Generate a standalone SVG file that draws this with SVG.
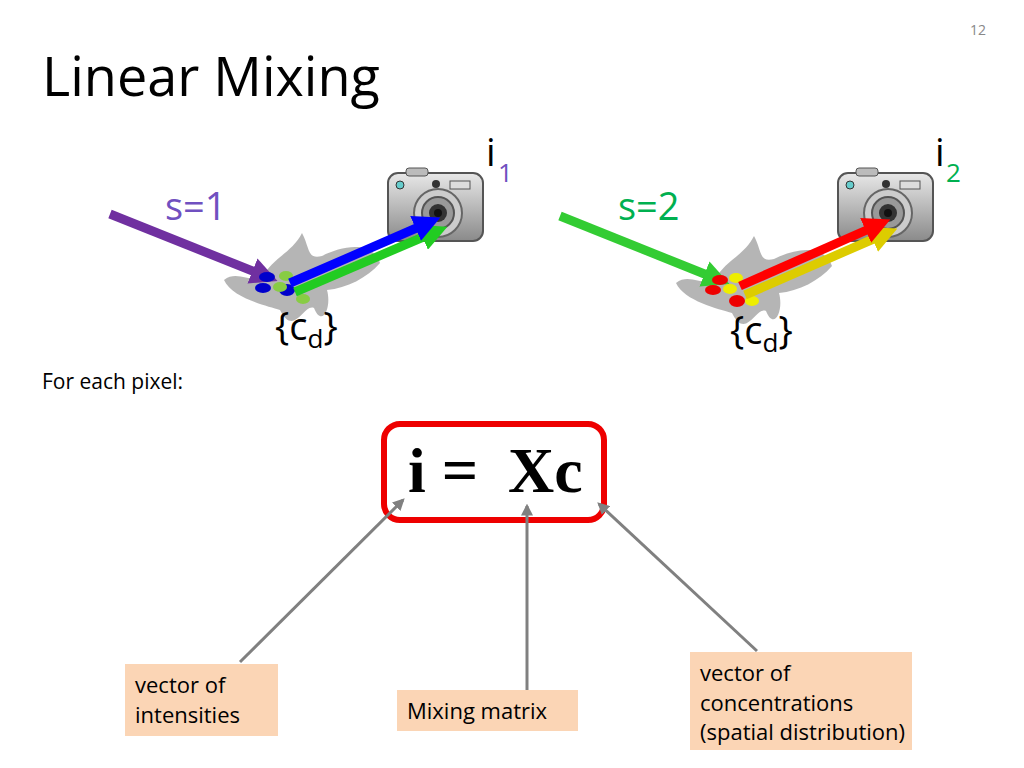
<svg xmlns="http://www.w3.org/2000/svg" width="1024" height="768" viewBox="0 0 1024 768">
<defs>
<style>
.t{font-family:"Open Sans","Liberation Sans",sans-serif}
.lbl{font-family:"Open Sans","Liberation Sans",sans-serif;font-size:22px;fill:#000}
.box{fill:#fbd5b5}
.ga{stroke:#808080;stroke-width:3;fill:none;marker-end:url(#ga)}
</style>
<marker id="ga" viewBox="0 0 10 10" refX="8" refY="5" markerWidth="4" markerHeight="4" orient="auto"><path d="M0,0L10,5L0,10z" fill="#808080"/></marker>
<marker id="ah" viewBox="0 0 10 10" refX="5" refY="5" markerWidth="3" markerHeight="3" orient="auto"><path d="M0,0L10,5L0,10z" fill="context-stroke"/></marker>
<linearGradient id="cam" x1="0" y1="0" x2="0" y2="1"><stop offset="0" stop-color="#e8e8e8"/><stop offset="1" stop-color="#8a8a8a"/></linearGradient>
<g id="camera">
<rect x="0" y="5" width="95" height="68" rx="10" fill="url(#cam)" stroke="#555" stroke-width="2"/>
<rect x="18" y="0" width="22" height="8" rx="3" fill="#bbb" stroke="#555"/>
<circle cx="12" cy="17" r="4" fill="#6cc" stroke="#333"/>
<circle cx="48" cy="16" r="4" fill="#333"/>
<rect x="62" y="13" width="20" height="8" fill="#ddd" stroke="#555"/>
<circle cx="50" cy="45" r="24" fill="#ccc" stroke="#666" stroke-width="2"/>
<circle cx="50" cy="45" r="16" fill="#999" stroke="#555" stroke-width="2"/>
<circle cx="50" cy="45" r="9" fill="#333"/>
<circle cx="50" cy="45" r="4" fill="#111"/>
</g>
<path id="blob" d="M0,0 C10,-20 30,-25 40,-45 C48,-30 45,-18 60,-22 C80,-32 110,-38 118,-15 C105,0 85,10 65,12 C70,30 60,50 52,30 C42,25 32,60 18,32 C5,28 -30,20 -38,2 C-25,-8 -12,5 0,0z" fill="#a8a8a8" opacity="0.85"/>
</defs>
<rect width="1024" height="768" fill="#fff"/>
<text class="t" x="42" y="96" font-size="54" fill="#000">Linear Mixing</text>
<text class="t" x="970" y="35" font-size="14" fill="#888">12</text>

<g id="scene1">
<use href="#blob" x="262" y="278"/>
<use href="#camera" x="388" y="168"/>
<line x1="110" y1="214" x2="265" y2="276" stroke="#7030a0" stroke-width="9" marker-end="url(#ah)"/>
<ellipse cx="267" cy="277" rx="8" ry="5" fill="#00c"/>
<ellipse cx="263" cy="288" rx="8" ry="5" fill="#00c"/>
<ellipse cx="287" cy="290" rx="8" ry="6" fill="#00c"/>
<ellipse cx="286" cy="276" rx="7" ry="5" fill="#8c4"/>
<ellipse cx="280" cy="287" rx="7" ry="5" fill="#8c4"/>
<ellipse cx="303" cy="299" rx="7" ry="5" fill="#8c4"/>
<line x1="295" y1="292" x2="435" y2="232" stroke="#2c2" stroke-width="9" marker-end="url(#ah)"/>
<line x1="290" y1="283" x2="428" y2="223" stroke="#00f" stroke-width="9" marker-end="url(#ah)"/>
<text class="t" x="165" y="220" font-size="38" fill="#7050c0">s=1</text>
<text class="t" x="486" y="166" font-size="38">i</text>
<text class="t" x="498" y="182" font-size="26" fill="#7050c0">1</text>
<text class="t" x="275" y="340" font-size="38">{c<tspan font-size="26" dy="8">d</tspan><tspan dy="-8">}</tspan></text>
</g>

<g id="scene2">
<use href="#blob" x="714" y="281"/>
<use href="#camera" x="838" y="168"/>
<line x1="560" y1="216" x2="717" y2="279" stroke="#3c3" stroke-width="9" marker-end="url(#ah)"/>
<ellipse cx="720" cy="280" rx="8" ry="5" fill="#e00"/>
<ellipse cx="713" cy="290" rx="8" ry="5" fill="#e00"/>
<ellipse cx="737" cy="301" rx="8" ry="6" fill="#e00"/>
<ellipse cx="736" cy="278" rx="7" ry="5" fill="#ee0"/>
<ellipse cx="730" cy="289" rx="7" ry="5" fill="#ee0"/>
<ellipse cx="752" cy="301" rx="7" ry="5" fill="#ee0"/>
<line x1="745" y1="295" x2="885" y2="234" stroke="#dc0" stroke-width="9" marker-end="url(#ah)"/>
<line x1="740" y1="286" x2="878" y2="225" stroke="#f00" stroke-width="9" marker-end="url(#ah)"/>
<text class="t" x="618" y="220" font-size="38" fill="#00b050">s=2</text>
<text class="t" x="935" y="166" font-size="38">i</text>
<text class="t" x="946" y="182" font-size="26" fill="#00b050">2</text>
<text class="t" x="730" y="344" font-size="38">{c<tspan font-size="26" dy="8">d</tspan><tspan dy="-8">}</tspan></text>
</g>

<text class="t" x="42" y="389" font-size="21">For each pixel:</text>

<g id="equation">
<rect x="384" y="424" width="220" height="96" rx="16" fill="#fff" stroke="#e00" stroke-width="6"/>
<text x="408" y="492" font-family="Liberation Serif,serif" font-weight="bold" font-size="64">i =</text>
<text x="508" y="492" font-family="Liberation Serif,serif" font-weight="bold" font-size="64">Xc</text>
</g>

<g id="connectors">
<line class="ga" x1="240" y1="662" x2="403" y2="500"/>
<line class="ga" x1="527" y1="690" x2="527" y2="506"/>
<line class="ga" x1="757" y1="651" x2="599" y2="504"/>
</g>

<g id="n1"><rect class="box" x="125" y="664" width="153" height="72"/>
<text class="lbl" x="135" y="693">vector of</text><text class="lbl" x="135" y="723">intensities</text></g>
<g id="n2"><rect class="box" x="397" y="690" width="181" height="41"/>
<text class="lbl" x="407" y="719">Mixing matrix</text></g>
<g id="n3"><rect class="box" x="690" y="652" width="222" height="98"/>
<text class="lbl" x="700" y="681">vector of</text><text class="lbl" x="700" y="711">concentrations</text>
<text class="lbl" x="700" y="740" font-size="18">(spatial distribution)</text></g>
</svg>
